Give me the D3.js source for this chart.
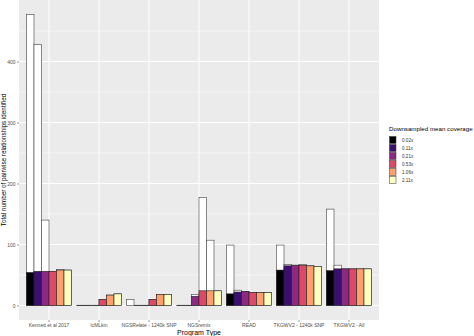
<!DOCTYPE html>
<html><head><meta charset="utf-8">
<script src="https://cdn.jsdelivr.net/npm/d3@7"></script>
<style>body{margin:0;background:#fff;}svg{display:block;font-family:"Liberation Sans",Arial,sans-serif;}</style>
</head><body><svg id="c" width="474" height="336"></svg>
<script>
const categories = ["Kennett et al 2017","lcMLkin","NGSRelate - 1240k SNP","NGSremix","READ","TKGWV2 - 1240k SNP","TKGWV2 - All"];
const coverages = ["0.02x","0.11x","0.21x","0.53x","1.06x","2.11x"];
const colors = ["#000004","#3B0F70","#8C2981","#DE4968","#FE9F6D","#FCFDBF"];
// total pairwise relationships (white outlined bars), per category, per coverage
const totalValues = [
  [477, 428, 140, 56, 59, 58],
  [0, 0, 0, 10, 17, 19],
  [10, 0, 0, 10, 18, 18],
  [0, 0, 18, 177, 107, 24],
  [99, 25, 23, 21, 21, 21],
  [99, 67, 66, 67, 65, 64],
  [158, 66, 60, 60, 60, 60]
];
// correctly identified relationships (coloured bars)
const correctValues = [
  [54, 56, 56, 56, 58, 58],
  [0, 0, 0, 10, 17, 19],
  [0, 0, 0, 10, 18, 18],
  [0, 0, 15, 24, 24, 24],
  [19, 22, 23, 21, 21, 21],
  [58, 65, 66, 66, 65, 64],
  [57, 60, 60, 60, 60, 60]
];
const yTicks = [0, 100, 200, 300, 400];
const yMinor = [50, 150, 250, 350, 450];

const svg = d3.select("#c");
const P = {l: 19, r: 379, t: 0, b: 320};
const maxV = d3.max(totalValues.flat());
const x = d3.scaleBand().domain(categories).range([P.l, P.r]).paddingInner(0.1).paddingOuter(0.15);
const xs = d3.scaleBand().domain(coverages).range([0, x.bandwidth()]);
const y = d3.scaleLinear().domain([-0.05 * maxV, 1.05 * maxV]).range([P.b, P.t]);

svg.append("rect").attr("x", P.l).attr("y", P.t).attr("width", P.r - P.l).attr("height", P.b - P.t).attr("fill", "#EBEBEB");
const g = svg.append("g");
yMinor.forEach(v => g.append("line").attr("x1", P.l).attr("x2", P.r).attr("y1", y(v)).attr("y2", y(v)).attr("stroke", "#fff").attr("stroke-width", 0.5));
yTicks.forEach(v => g.append("line").attr("x1", P.l).attr("x2", P.r).attr("y1", y(v)).attr("y2", y(v)).attr("stroke", "#fff").attr("stroke-width", 1));
categories.forEach(c => { const cx = x(c) + x.bandwidth() / 2; g.append("line").attr("x1", cx).attr("x2", cx).attr("y1", P.t).attr("y2", P.b).attr("stroke", "#fff").attr("stroke-width", 1); });

function drawBar(c, cv, v, fill, stroke) {
  const bx = x(c) + xs(cv);
  if (v > 0) {
    svg.append("rect").attr("x", bx).attr("width", xs.bandwidth())
      .attr("y", y(v)).attr("height", y(0) - y(v))
      .attr("fill", fill).attr("stroke", stroke).attr("stroke-width", 0.6);
  } else {
    svg.append("line").attr("x1", bx).attr("x2", bx + xs.bandwidth())
      .attr("y1", y(0)).attr("y2", y(0)).attr("stroke", stroke).attr("stroke-width", 0.7);
  }
}
// white total bars
categories.forEach((c, i) => coverages.forEach((cv, j) => drawBar(c, cv, totalValues[i][j], "#fff", "#404040")));
// coloured bars
categories.forEach((c, i) => coverages.forEach((cv, j) => { if (correctValues[i][j] > 0 || totalValues[i][j] === 0) drawBar(c, cv, correctValues[i][j], colors[j], "#222"); }));

// axes
const yAxis = svg.append("g").attr("transform", `translate(${P.l},0)`)
  .call(d3.axisLeft(y).tickValues(yTicks).tickSize(2).tickPadding(1.5));
yAxis.select(".domain").remove();
yAxis.selectAll("line").attr("stroke", "#333").attr("stroke-width", 0.5);
yAxis.selectAll("text").attr("fill", "#4d4d4d").style("font-size", "5px");

const xAxis = svg.append("g").attr("transform", `translate(0,${P.b})`)
  .call(d3.axisBottom(x).tickSize(2).tickPadding(1.5));
xAxis.select(".domain").remove();
xAxis.selectAll("line").attr("stroke", "#333").attr("stroke-width", 0.5);
xAxis.selectAll("text").attr("fill", "#4d4d4d").style("font-size", "5px");

svg.append("text").attr("x", (P.l + P.r) / 2).attr("y", 335).attr("text-anchor", "middle")
  .style("font-size", "7px").attr("fill", "#000").text("Program Type");
svg.append("text").attr("transform", `translate(6,${(P.t + P.b) / 2}) rotate(-90)`).attr("text-anchor", "middle")
  .style("font-size", "6.3px").attr("fill", "#000").text("Total number of pairwise relationships identified");

// legend
const lg = svg.append("g");
lg.append("text").attr("x", 389).attr("y", 131).style("font-size", "6.2px").attr("fill", "#000").text("Downsampled mean coverage");
coverages.forEach((cv, j) => {
  const ky = 136.5 + j * 8;
  lg.append("rect").attr("x", 389.5).attr("y", ky).attr("width", 6.5).attr("height", 7)
    .attr("fill", colors[j]).attr("stroke", "#333").attr("stroke-width", 0.5);
  lg.append("text").attr("x", 402).attr("y", ky + 5).style("font-size", "4.6px").attr("fill", "#333").text(cv);
});
</script></body></html>
